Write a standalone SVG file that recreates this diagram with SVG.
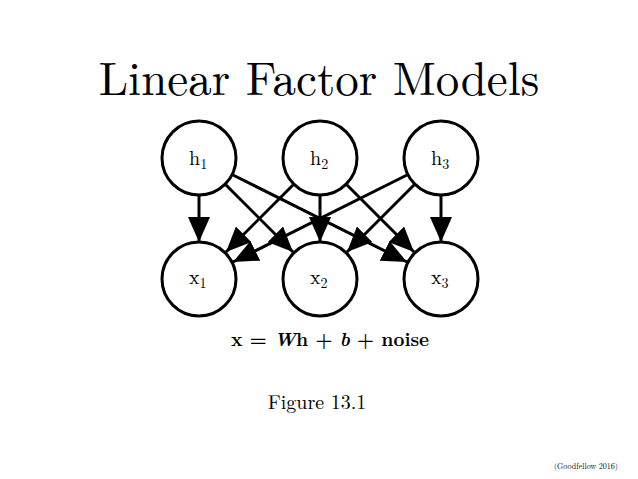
<svg xmlns="http://www.w3.org/2000/svg" width="638" height="479" viewBox="0 0 638 479">
<style>
.n{fill:#fff;stroke:#000;stroke-width:3}
.t{font-family:"Latin Modern Roman","Liberation Serif",serif;fill:#000}
.e{stroke:#000;stroke-width:3;fill:none;marker-end:url(#a)}
</style>
<defs><marker id="a" markerUnits="userSpaceOnUse" markerWidth="26" markerHeight="22" refX="25" refY="11" orient="auto"><path d="M0,0L25,11L0,22Z" fill="#000"/></marker></defs>
<rect width="638" height="479" fill="#fff"/>
<text class="t" x="319" y="95" font-size="47" text-anchor="middle">Linear Factor Models</text>
<g id="edges">
<line class="e" x1="199" y1="196" x2="199" y2="242"/>
<line class="e" x1="320" y1="196" x2="320" y2="242"/>
<line class="e" x1="441" y1="196" x2="441" y2="242"/>
<line class="e" x1="226" y1="185" x2="293" y2="252"/>
<line class="e" x1="233" y1="175" x2="407" y2="262"/>
<line class="e" x1="293" y1="185" x2="226" y2="252"/>
<line class="e" x1="347" y1="185" x2="414" y2="252"/>
<line class="e" x1="407" y1="175" x2="233" y2="262"/>
<line class="e" x1="414" y1="185" x2="347" y2="252"/>
</g>
<g id="h1"><circle class="n" cx="199" cy="158" r="37"/><text class="t" x="189" y="165" font-size="20">h<tspan font-size="14" dy="4">1</tspan></text></g>
<g id="h2"><circle class="n" cx="320" cy="158" r="37"/><text class="t" x="310" y="165" font-size="20">h<tspan font-size="14" dy="4">2</tspan></text></g>
<g id="h3"><circle class="n" cx="441" cy="158" r="37"/><text class="t" x="431" y="165" font-size="20">h<tspan font-size="14" dy="4">3</tspan></text></g>
<g id="x1"><circle class="n" cx="199" cy="279" r="37"/><text class="t" x="189" y="284" font-size="20">x<tspan font-size="14" dy="4">1</tspan></text></g>
<g id="x2"><circle class="n" cx="320" cy="279" r="37"/><text class="t" x="310" y="284" font-size="20">x<tspan font-size="14" dy="4">2</tspan></text></g>
<g id="x3"><circle class="n" cx="441" cy="279" r="37"/><text class="t" x="431" y="284" font-size="20">x<tspan font-size="14" dy="4">3</tspan></text></g>
<text class="t" x="330" y="346" font-size="19" text-anchor="middle" font-weight="bold">x = <tspan font-style="italic">W</tspan>h + <tspan font-style="italic">b</tspan> + noise</text>
<text class="t" x="317" y="409" font-size="20" text-anchor="middle">Figure 13.1</text>
<text class="t" x="618" y="469" font-size="8" text-anchor="end">(Goodfellow 2016)</text>
</svg>
